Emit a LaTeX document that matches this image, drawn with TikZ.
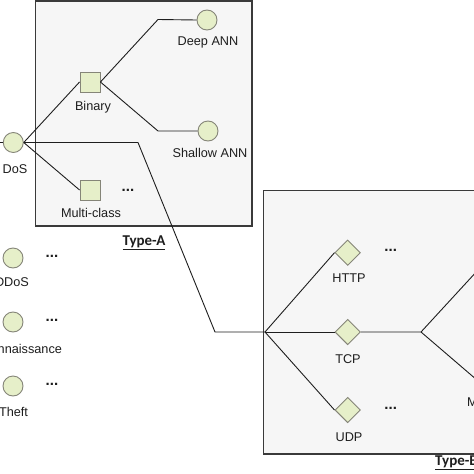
\documentclass[tikz,border=0pt]{standalone}
\usepackage{fontspec}
\setmainfont{Liberation Sans}
\newfontfamily\calfont{Carlito}
\usetikzlibrary{shapes.geometric}
\definecolor{nodefill}{HTML}{E6EFC9}
\definecolor{nodeline}{HTML}{858578}
\definecolor{boxfill}{HTML}{F6F6F6}
\definecolor{boxline}{HTML}{3A3A3A}
\definecolor{ink}{HTML}{1E1E1E}
\begin{document}
\begin{tikzpicture}[x=1pt,y=-1pt,
  leafc/.style={circle,draw=nodeline,fill=nodefill,line width=0.9pt,minimum size=20pt,inner sep=0pt},
  sq/.style={rectangle,draw=nodeline,fill=nodefill,line width=0.9pt,minimum size=20pt,inner sep=0pt},
  dia/.style={diamond,draw=nodeline,fill=nodefill,line width=0.9pt,minimum width=25.5pt,minimum height=25.5pt,inner sep=0pt},
  lbl/.style={text=ink,inner sep=0pt,font=\fontsize{12.7}{15}\selectfont},
  dots/.style={text=ink,inner sep=0pt,font=\fontsize{15}{18}\selectfont\bfseries},
  tlabel/.style={text=ink,inner sep=0pt,font=\calfont\fontsize{15}{18}\selectfont\bfseries},
  conn/.style={draw=ink,line width=0.9pt},
  grp/.style={draw=boxline,fill=boxfill,line width=1.1pt}]
\useasboundingbox (0,0) rectangle (474,474);
\clip (0,0) rectangle (474,474);
\fill[white] (0,0) rectangle (474,474);
% group boxes
\draw[grp] (35.7,1) rectangle (252,226);
\draw[grp] (263.3,190.7) rectangle (600,454);
% coordinates
\coordinate (root) at (-20,142.5);
\coordinate (bendA) at (138,142.5);
\coordinate (bendB) at (215,332);
\coordinate (tb) at (265,332);
\coordinate (up1) at (158,19.5);
\coordinate (dn1) at (158,131);
\coordinate (tb2) at (421,332);
% left column
\node[leafc] (dos) at (13.3,142.5) {};
\node[lbl] (dosl) at (15,169) {DoS};
\node[leafc] (ddos) at (13,258) {};
\node[lbl] (ddosl) at (12,282) {DDoS};
\node[dots] (ddosd) at (52,256) {...};
\node[leafc] (rec) at (13,322) {};
\node[lbl] (recl) at (15,349) {Reconnaissance};
\node[dots] (recd) at (52,320) {...};
\node[leafc] (theft) at (13,386) {};
\node[lbl] (theftl) at (13.5,412) {Theft};
\node[dots] (theftd) at (52,384) {...};
% Type-A
\node[sq] (bin) at (90,82) {};
\node[lbl] (binl) at (93,107) {Binary};
\node[sq] (mc) at (90,190) {};
\node[lbl] (mcl) at (91,213) {Multi-class};
\node[dots] (mcd) at (128,190) {...};
\node[leafc] (deep) at (207,20) {};
\node[lbl] (deepl) at (208,42) {Deep ANN};
\node[leafc] (shal) at (208,131) {};
\node[lbl] (shall) at (210,153) {Shallow ANN};
\node[tlabel] (ta) at (144,243) {\underline{Type-A}};
% Type-B
\node[dia] (http) at (347.7,252.7) {};
\node[lbl] (httpl) at (349,278) {HTTP};
\node[dots] (httpd) at (390.7,250) {...};
\node[dia] (tcp) at (347.7,332) {};
\node[lbl] (tcpl) at (348,359) {TCP};
\node[dia] (udp) at (347.7,410) {};
\node[lbl] (udpl) at (349,437) {UDP};
\node[dots] (udpd) at (390.7,408) {...};
\node[sq] (bin2) at (488,270.5) {};
\node[lbl] (bin2l) at (491,297) {Binary};
\node[sq] (mc2) at (488,380.5) {};
\node[lbl] (mc2l) at (497,402) {Multi-class};
\node[tlabel,anchor=west] (tbl) at (435,463) {\underline{Type-B}};
% connectors
\draw[conn] (root) -- (dos.west);
\draw[conn] (dos.east) -- (bin.west);
\draw[conn] (dos.east) -- (mc.west);
\draw[conn] (bin.east) -- (up1) -- (deep.west);
\draw[conn] (bin.east) -- (dn1) -- (shal.west);
\draw[conn] (dos.east) -- (bendA) -- (bendB) -- (tb);
\draw[conn] (tb) -- (http.west);
\draw[conn] (tb) -- (tcp.west);
\draw[conn] (tb) -- (udp.west);
\draw[conn] (tcp.east) -- (tb2) -- (bin2.west);
\draw[conn] (tb2) -- (mc2.west);
\end{tikzpicture}
\end{document}
